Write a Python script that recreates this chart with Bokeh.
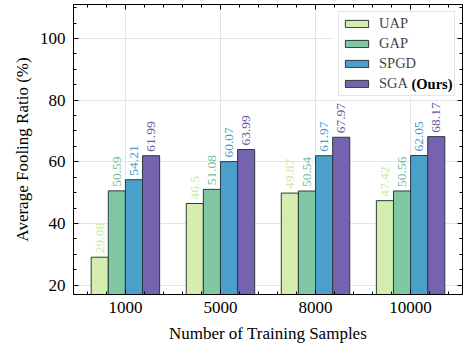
import numpy as np
from bokeh.plotting import figure
from bokeh.models import (FixedTicker, LinearAxis, Legend, LegendItem, Label,
                          CustomLabelingPolicy, BoxAnnotation)
from bokeh.core.properties import value
from bokeh.embed import file_html
from bokeh.resources import INLINE

sizes = ["1000", "5000", "8000", "10000"]
methods = ["UAP", "GAP", "SPGD", "SGA"]
uap = [29.08, 46.5, 49.87, 47.42]
gap = [50.59, 51.08, 50.54, 50.56]
spgd = [54.21, 60.07, 61.97, 62.05]
sga = [61.99, 63.99, 67.97, 68.17]
series = [uap, gap, spgd, sga]

bar_colors = ["#d4eeb0", "#80c8a5", "#4aa0ca", "#7563b0"]
text_colors = ["#cde9a4", "#70bf9f", "#4a9cc6", "#6a5aa8"]

FONT = "Liberation Serif"
X0, X1 = -0.546, 3.546
Y0, Y1 = 17, 111
FW, FH = 389, 290
bw = 0.18
offsets = [-1.5 * bw, -0.5 * bw, 0.5 * bw, 1.5 * bw]

def px_x(px):
    return X0 + px / FW * (X1 - X0)

def px_y(py):
    return Y1 - py / FH * (Y1 - Y0)

p = figure(frame_width=FW, frame_height=FH, x_range=(X0, X1), y_range=(Y0, Y1),
           output_backend="svg", toolbar_location=None,
           min_border_left=73, min_border_bottom=61, min_border_top=2, min_border_right=1)

base = np.arange(len(sizes))
items = []
for vals, name, c, tc, off in zip(series, methods, bar_colors, text_colors, offsets):
    xs = base + off
    r = p.vbar(x=xs, top=vals, bottom=0, width=bw, fill_color=c,
               line_color="#2b3b3b", line_width=1)
    p.text(x=xs, y=vals, text=[str(v) for v in vals], angle=np.pi / 2,
           text_align="left", text_baseline="middle", y_offset=-4,
           text_font=value(FONT), text_font_size="13.5px", text_color=tc)
    items.append(LegendItem(label=name, renderers=[r]))

xt = FixedTicker(ticks=[0, 1, 2, 3], minor_ticks=[round(-0.4 + 0.2 * i, 2) for i in range(20)])
yt = FixedTicker(ticks=[20, 40, 60, 80, 100], minor_ticks=list(range(20, 111, 5)))

p.xaxis.ticker = xt
p.xaxis.major_label_overrides = {i: s for i, s in enumerate(sizes)}
p.yaxis.ticker = yt
p.xaxis.axis_label = "Number of Training Samples"
p.yaxis.axis_label = "Average Fooling Ratio (%)"

for ax in [p.xaxis[0], p.yaxis[0]]:
    ax.axis_label_text_font = FONT
    ax.axis_label_text_font_style = "normal"
    ax.axis_label_text_font_size = "17px"
    ax.major_label_text_font = FONT
    ax.major_label_text_font_size = "17px"
    ax.major_label_text_color = "black"
    ax.axis_label_text_color = "black"
    ax.major_tick_in = 5
    ax.major_tick_out = 0
    ax.minor_tick_in = 3
    ax.minor_tick_out = 0
    ax.axis_line_color = "black"
    ax.major_tick_line_color = "black"
    ax.minor_tick_line_color = "black"
p.xaxis.major_label_standoff = 7
p.xaxis.axis_label_standoff = 8
p.yaxis.major_label_standoff = 8
p.yaxis.axis_label_standoff = 5

hide = CustomLabelingPolicy(code="for (const i of indices) { indices.unset(i) }\nreturn indices")
top_ax = LinearAxis(ticker=xt, major_label_policy=hide, major_label_standoff=0,
                    major_label_text_font_size="1px",
                    major_tick_in=5, major_tick_out=0, minor_tick_in=3, minor_tick_out=0)
right_ax = LinearAxis(ticker=yt, major_label_policy=hide, major_label_standoff=0,
                      major_label_text_font_size="1px",
                      major_tick_in=5, major_tick_out=0, minor_tick_in=3, minor_tick_out=0)
p.add_layout(top_ax, "above")
p.add_layout(right_ax, "right")

p.xgrid.ticker = xt
p.ygrid.ticker = yt
p.grid.grid_line_color = "#e4e4e4"
p.grid.grid_line_width = 1
p.outline_line_color = "black"

# legend geometry (pixels)
PAD, GW, GH, STAND, LW, LH, SP, MARG = 3, 29, 9, 8, 72, 15, 3, 7
ROW_H = 18
LEG_W = 123
LEG_H = 2 * PAD + 4 * ROW_H + 3 * SP

# opaque backing for the legend (legend itself is transparent so the bold label shows)
backing = BoxAnnotation(left=px_x(FW - MARG - LEG_W + 1), right=px_x(FW - MARG - 1),
                        top=px_y(MARG + 1), bottom=px_y(MARG + LEG_H - 1),
                        fill_color="white", fill_alpha=0.95, line_color=None,
                        level="annotation")
p.add_layout(backing)

legend = Legend(items=items, location="top_right")
legend.label_text_font = FONT
legend.label_text_font_size = "14.5px"
legend.glyph_width = GW
legend.glyph_height = GH
legend.label_height = LH
legend.label_width = LW
legend.spacing = SP
legend.padding = PAD
legend.margin = MARG
legend.label_standoff = STAND
legend.border_line_color = "#cccccc"
legend.background_fill_alpha = 0.0
p.add_layout(legend)

# bold "(Ours)" after the last legend label
text_px = FW - MARG - LEG_W + PAD + GW + STAND + 39
row_px = MARG + PAD + 3 * (ROW_H + SP) + ROW_H / 2 - 3
ours = Label(x=px_x(text_px), y=px_y(row_px),
             text="(Ours)", text_font=FONT, text_font_size="14.5px",
             text_font_style="bold", text_align="left", text_baseline="middle",
             text_color="black", level="overlay")
p.add_layout(ours)

open("out.html", "w").write(file_html(p, INLINE))
